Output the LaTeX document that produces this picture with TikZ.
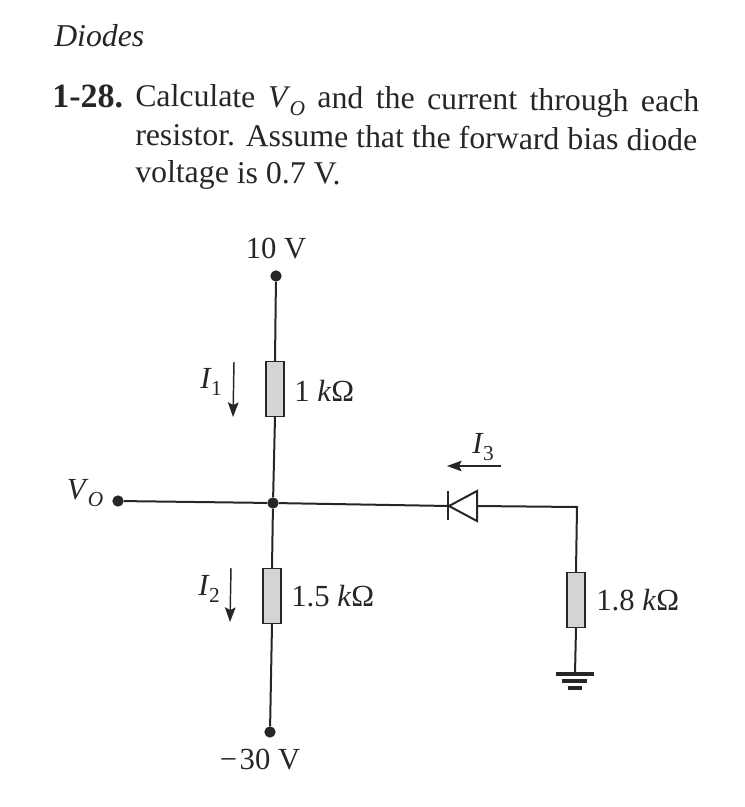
\documentclass[tikz,border=0pt]{standalone}
\usepackage{fontspec}
\setmainfont{Liberation Serif}
\usetikzlibrary{arrows.meta}
\newcommand{\subv}[2]{\textit{#1}\kern-0.5pt\raisebox{-0.25em}{\fontsize{16}{16}\selectfont #2}}
\tikzset{
  wire/.style   ={line width=1.5pt, black!85},
  dot/.style    ={circle, fill=black!85, inner sep=0pt, minimum size=8.5pt},
  res/.style    ={draw=black!85, line width=1.2pt, fill=black!17, minimum width=13.5pt, minimum height=41pt, inner sep=0pt},
  cur/.style    ={-{Stealth[length=11pt,width=8pt,inset=2pt]}, line width=1.1pt, black!85},
  txt/.style    ={font=\fontsize{23.85}{27}\selectfont, inner sep=0pt, anchor=base west, black!85, rotate=-0.6},
  label/.style  ={font=\fontsize{23}{27}\selectfont, inner sep=0pt, black!85},
  gndbar/.style ={line width=2.4pt, black!85}
}
\begin{document}
\begin{tikzpicture}[x=0.75pt, y=-0.75pt]
    \useasboundingbox (0,0) rectangle (744,807);

    % problem text
    \node[txt, rotate=0.6] (head) at (54,46) {\itshape Diodes};
    \node[txt, rotate=0.6, font=\fontsize{25.5}{27}\selectfont] (num) at (52,107) {\bfseries 1-28.};
    \node[txt] (line1) at (135,106) {\hbox to 423pt{Calculate \subv{V}{\textit{O}} and the current through each}};
    \node[txt] (line2) at (135,145) {\hbox to 421.5pt{resistor. Assume that the forward bias diode}};
    \node[txt] (line3) at (135,182) {voltage is 0.7 V.};

    % supply and output points
    \node[dot] (top) at (276,276) {};
    \node[dot] (out) at (118,501) {};
    \node[dot] (mid) at (273,503) {};
    \node[dot] (bot) at (270,732) {};
    \node[label] (topval) at (276,249) {10 V};
    \node[label] (botval) at (260,760) {−\kern2pt 30 V};
    \node[label] (vo) at (85,493) {\subv{V}{\textit{O}}};

    % resistors
    \node[res] (r1) at (275,389) {};
    \node[res] (r2) at (272,596) {};
    \node[res] (r3) at (576,600) {};
    \node[label, anchor=west] (r1val) at (294,391) {1 \textit{k}Ω};
    \node[label, anchor=west] (r2val) at (291,596) {1.5 \textit{k}Ω};
    \node[label, anchor=west] (r3val) at (596,600) {1.8 \textit{k}Ω};

    % diode
    \coordinate (dtip) at (449,506);
    \coordinate (dbase) at (477,506);
    \coordinate (corner) at (577,507);
    \draw[wire] (477,491) -- (477,521) -- (dtip) -- cycle;
    \draw[wire] (448,491) -- (448,520);
    \draw[wire] (mid) -- (dtip);
    \draw[wire] (dbase) -- (corner) -- (r3.north);

    % vertical wires
    \draw[wire] (top) -- (r1.north);
    \draw[wire] (r1.south) -- (mid);
    \draw[wire] (mid) -- (r2.north);
    \draw[wire] (r2.south) -- (bot);
    \draw[wire] (out) -- (mid);

    % ground
    \coordinate (gnd) at (575,674);
    \draw[wire] (r3.south) -- (gnd);
    \draw[gndbar] (556,674) -- (594,674);
    \draw[gndbar] (562,681) -- (587,681);
    \draw[gndbar] (568,688) -- (582,688);

    % currents
    \coordinate (i1a) at (234,362);
    \coordinate (i1b) at (233,417);
    \coordinate (i2a) at (231,568);
    \coordinate (i2b) at (230,622);
    \coordinate (i3a) at (501,466);
    \coordinate (i3b) at (447,466);
    \draw[cur] (i1a) -- (i1b);
    \draw[cur] (i2a) -- (i2b);
    \draw[cur] (i3a) -- (i3b);
    \node[label] (i1) at (211,382) {\subv{I}{1}};
    \node[label] (i2) at (209,589) {\subv{I}{2}};
    \node[label] (i3) at (483,447) {\subv{I}{3}};
\end{tikzpicture}
\end{document}
